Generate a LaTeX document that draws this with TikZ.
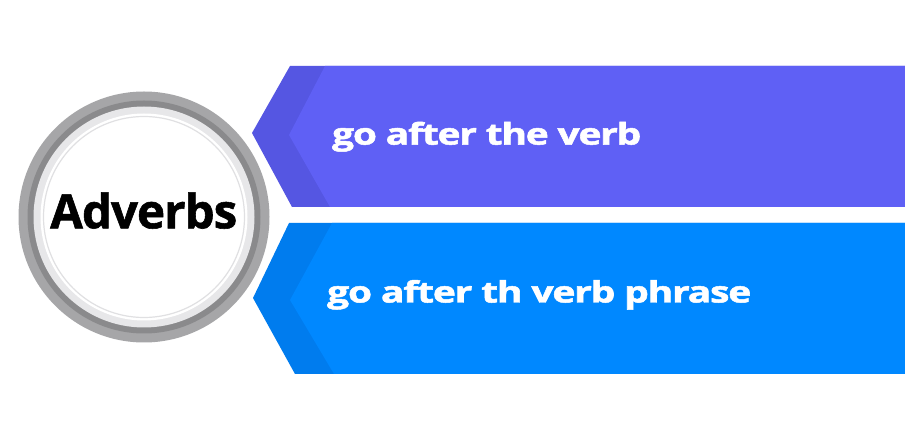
\documentclass[tikz,border=0pt]{standalone}
\usepackage{fontspec}
\setmainfont{Open Sans}
\newfontfamily\bandfont{Open Sans}[BoldFeatures={FakeBold=1.6}, LetterSpace=-3]
\newfontfamily\titlefont{Open Sans}[BoldFeatures={FakeBold=1.2}, LetterSpace=-2]
\usepackage{graphicx}
\definecolor{bandA}{HTML}{5F60F5}
\definecolor{bandAdark}{HTML}{5556E2}
\definecolor{bandB}{HTML}{0088FF}
\definecolor{bandBdark}{HTML}{007CEE}
\definecolor{ringlight}{HTML}{A6A6A8}
\definecolor{ringdark}{HTML}{8A8A8C}
\definecolor{ringpale}{HTML}{E7E7E9}
\definecolor{ringline}{HTML}{E0E0E2}
\tikzset{
  bandtext/.style={anchor=base west, inner sep=0pt, text=white, font=\bandfont\bfseries},
  titletext/.style={anchor=base west, inner sep=0pt, text=black, font=\titlefont\bfseries}
}
\begin{document}
\begin{tikzpicture}[x=1pt,y=-1pt]
\useasboundingbox (0,0) rectangle (905,427);
\fill[white] (0,0) rectangle (905,427);
% banner 1
\fill[bandAdark] (290,66) -- (905,66) -- (905,207) -- (292,207) -- (252,133) -- cycle;
\fill[bandA] (325,66) -- (905,66) -- (905,207) -- (330,207) -- (289,135) -- cycle;
% banner 2
\fill[bandBdark] (289,223) -- (905,223) -- (905,374) -- (295,374) -- (253,298) -- cycle;
\fill[bandB] (332,223) -- (905,223) -- (905,374) -- (334,374) -- (290,300) -- cycle;
% circle
\coordinate (c) at (144,217);
\fill[ringlight] (c) circle[radius=125.5];
\fill[ringdark] (c) circle[radius=116.5];
\fill[ringpale] (c) circle[radius=110.5];
\fill[white] (c) circle[radius=103.5];
\draw[ringline, line width=1.2pt] (c) circle[radius=100.5];
% texts
\node[titletext] (adv) at (50,228.3) {\resizebox{187pt}{36pt}{Adverbs}};
\node[bandtext] (t1) at (332,144.6) {\resizebox{309pt}{22.8pt}{go after the verb}};
\node[bandtext] (t2) at (327,302.5) {\resizebox{424pt}{22.5pt}{go after th verb phrase}};
\end{tikzpicture}
\end{document}
